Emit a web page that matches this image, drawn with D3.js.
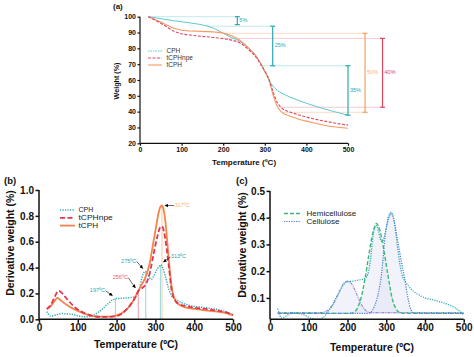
<!DOCTYPE html>
<html><head><meta charset="utf-8">
<script src="https://cdn.jsdelivr.net/npm/d3@7"></script>
<style>body{margin:0;background:#fff} text{font-family:"Liberation Sans",Arial,Helvetica,sans-serif}</style>
</head><body><svg id="c" width="474" height="357"></svg>
<script>
// ---------- Panel (a) data: TGA weight (%) ----------
const tA = [20,40,60,80,100,120,140,160,180,200,220,240,260,280,290,300,310,320,330,340,360,380,400,420,440,460,480,500];
const cphA = [100,99.2,98.3,97.5,96.8,96.1,95.3,94.2,92.3,89.5,86.8,84.5,80.5,75,70.5,65.5,60,56,53.5,51.8,49.3,47.2,45.3,43.6,42,40.5,39.1,37.8];
const npeA = [100,97.3,94.3,91,89.2,88.4,87.8,87.3,86.8,86.1,85.2,83.5,79.5,74,70,65.5,60.5,52.5,45.8,42.5,39.8,38.1,36.6,35.3,34.2,33.2,32.3,31.5];
const tcphA = [100,97.8,95.3,92.8,91.4,91,90.8,90.6,90.3,89.6,88,85.2,80.5,74.5,70.5,65.5,60,50.5,43.2,39.8,37.2,35.4,34,32.8,31.6,30.6,30,29.5];
const ticksAx = [0,100,200,300,400,500];
const ticksAy = [20,30,40,50,60,70,80,90,100];
// brackets (mass-loss annotations)
const brT = [234,319,500,541,583];
const brTop = [100,94,69,89.5,86.3];
const brBot = [95,69,37.8,39.6,42.8];
const brLabel = ["5%","25%","35%","50%","40%"];
const brKey = ["teal","teal","teal","orange","red"];
// guide lines
const gV = [100,94,69,89.5,39.6,86.3,42.8];
const gFrom = [20,158,288,200,342,195,338];
const gTo = [234,319,500,541,541,583,583];
const gKey = ["teal","teal","teal","orange","orange","red","red"];

// ---------- Panel (b) data: DTG ----------
const tCPH = [20,30,40,50,60,70,80,90,100,110,120,130,140,150,160,170,180,190,200,210,220,230,240,250,260,265,270,275,280,285,290,295,300,305,310,313,317,320,325,330,340,350,360,370,380,400,420,440,460,475,490,500];
const vCPH = [.06,.025,.03,.04,.045,.042,.04,.035,.028,.022,.02,.022,.03,.05,.07,.1,.125,.15,.16,.162,.164,.167,.17,.18,.25,.32,.36,.37,.35,.32,.31,.33,.36,.39,.41,.42,.41,.39,.34,.28,.19,.16,.14,.125,.115,.1,.093,.085,.075,.065,.05,.035];
const tNPE = [20,30,40,50,60,70,80,90,100,120,140,160,180,200,220,240,250,256,265,275,285,295,305,312,317,322,328,335,342,350,360,380,400,440,480,500];
const vNPE = [.08,.11,.17,.22,.2,.165,.13,.1,.075,.045,.025,.018,.018,.025,.06,.13,.18,.22,.24,.27,.35,.5,.64,.71,.72,.68,.57,.4,.22,.15,.12,.1,.09,.075,.055,.035];
const tTC = [20,30,40,47,55,65,80,100,120,140,160,180,200,220,240,256,265,275,285,295,302,308,313,317,321,326,332,338,345,352,360,380,400,440,480,500];
const vTC = [.08,.1,.14,.165,.15,.125,.095,.065,.04,.025,.02,.02,.03,.06,.13,.22,.27,.33,.43,.6,.72,.82,.87,.88,.85,.75,.55,.35,.2,.14,.115,.09,.08,.065,.05,.03];
const ticksBx = [0,100,200,300,400,500];
const ticksBy = [0,0.2,0.4,0.6,0.8,1.0];
// peak annotations
const pkT = [197,256,275,313,317];
const pkV = [0.16,0.22,0.37,0.42,0.88];
const pkLabel = ["197ºC","256ºC","275ºC","313ºC","317ºC"];
const pkKey = ["teal","red","teal","teal","orange"];
const pkDx = [-18,-18,-17,18,20];
const pkDy = [-8,-13,-10,-8,0];

// ---------- Panel (c) data: deconvolution ----------
const tHemi = [20,200,215,225,235,245,255,265,275,285,295,305,315,325,335,350,500];
const vHemi = [.042,.042,.045,.06,.1,.17,.26,.34,.378,.345,.27,.18,.1,.06,.045,.042,.042];
const tCell = [20,250,258,270,280,288,297,305,312,320,330,340,348,356,364,372,500];
const vCell = [.042,.042,.045,.07,.12,.19,.33,.4,.418,.39,.31,.23,.17,.1,.055,.043,.042];
const tLig = [20,130,145,160,175,188,200,212,225,238,250,260,500];
const vLig = [.045,.045,.05,.07,.11,.15,.163,.15,.11,.07,.05,.045,.045];
const ticksCx = [0,100,200,300,400,500];
const ticksCy = [0.1,0.2,0.3,0.4,0.5];

const col = {teal:"#2aa8b5", orange:"#f5a060", red:"#e2475d"};
const guideCol = {teal:"#c4e9ec", orange:"#fcdcc4", red:"#f7c9d0"};
const svg = d3.select("#c");
const F = '"Liberation Sans",Arial,Helvetica,sans-serif';

function axes(x, y, xt, yt, fs, sw, tl, fmtY) {
  const gx = svg.append("g").attr("transform",`translate(0,${y.range()[0]})`)
    .call(d3.axisBottom(x).tickValues(xt).tickSize(tl).tickPadding(1.5).tickFormat(d3.format("d")));
  const gy = svg.append("g").attr("transform",`translate(${x.range()[0]},0)`)
    .call(d3.axisLeft(y).tickValues(yt).tickSize(tl).tickPadding(1.5).tickFormat(fmtY));
  [gx,gy].forEach(g=>{
    g.selectAll("path,line").attr("stroke","#111").attr("stroke-width",sw);
    g.selectAll("text").attr("font-size",fs).attr("font-weight","bold").attr("fill","#111").style("font-family",F);
  });
  gx.select(".domain").attr("d",`M${x.range()[0]},0H${x.range()[1]}`);
  gy.select(".domain").attr("d",`M0,${y.range()[0]}V${y.range()[1]}`);
}
function label(t, x, y, fs, opts={}) {
  const e = svg.append("text").attr("x",x).attr("y",y).attr("font-size",fs)
    .attr("font-weight",opts.w||"normal").attr("fill",opts.c||"#111")
    .attr("text-anchor",opts.a||"start").attr("dominant-baseline","middle").text(t);
  if (opts.r) e.attr("transform",`rotate(-90,${x},${y})`);
  return e;
}
const zip = (t,v)=>t.map((d,i)=>[d,v[i]]);

// ================= Panel (a) =================
const xA = d3.scaleLinear().domain([0,500]).range([140,348]);
const yA = d3.scaleLinear().domain([20,100]).range([143.3,16.7]);
const lineA = d3.line().x(d=>xA(d[0])).y(d=>yA(d[1])).curve(d3.curveMonotoneX);
gV.forEach((v,i)=>{
  svg.append("line").attr("x1",xA(gFrom[i])).attr("x2",xA(gTo[i])).attr("y1",yA(v)).attr("y2",yA(v))
    .attr("stroke",guideCol[gKey[i]]).attr("stroke-width",1);
});
svg.append("path").attr("d",lineA(zip(tA,cphA))).attr("fill","none").attr("stroke","#5fc8cd").attr("stroke-width",1);
svg.append("path").attr("d",lineA(zip(tA,tcphA))).attr("fill","none").attr("stroke","#f59a66").attr("stroke-width",1.1);
svg.append("path").attr("d",lineA(zip(tA,npeA))).attr("fill","none").attr("stroke","#e04660").attr("stroke-width",1.1).attr("stroke-dasharray","3,1.5");
brT.forEach((t,i)=>{
  const x = xA(t), c = col[brKey[i]], y1 = yA(brTop[i]), y2 = yA(brBot[i]);
  svg.append("line").attr("x1",x).attr("x2",x).attr("y1",y1).attr("y2",y2).attr("stroke",c).attr("stroke-width",1.2);
  [y1,y2].forEach(yy=>svg.append("line").attr("x1",x-2.5).attr("x2",x+2.5).attr("y1",yy).attr("y2",yy).attr("stroke",c).attr("stroke-width",1.2));
  label(brLabel[i], x+2, (y1+y2)/2, 5.5, {c: brKey[i]==="orange" ? "#f7b27a" : c});
});
axes(xA, yA, ticksAx, ticksAy, 7, 1.2, 2.5, d3.format("d"));
label("(a)", 113, 7, 8, {w:"bold"});
label("Weight (%)", 117, 81, 7.2, {w:"bold", a:"middle", r:true});
label("Temperature (ºC)", 244, 163, 8, {w:"bold", a:"middle"});
// legend (a)
const legA = [["CPH","#5fc8cd","1.5,1",1],["tCPHnpe","#e04660","3,1.5",1.1],["tCPH","#f59a66",null,1.1]];
legA.forEach((d,i)=>{
  const yy = 51 + i*7;
  const l = svg.append("line").attr("x1",148).attr("x2",162).attr("y1",yy).attr("y2",yy).attr("stroke",d[1]).attr("stroke-width",d[3]);
  if (d[2]) l.attr("stroke-dasharray",d[2]);
  label(d[0], 166.5, yy, 6.5, {c:"#333"});
});

// ================= Panel (b) =================
const xB = d3.scaleLinear().domain([0,500]).range([39,233]);
const yB = d3.scaleLinear().domain([0,1]).range([319.3,190]);
const lineB = d3.line().x(d=>xB(d[0])).y(d=>yB(d[1])).curve(d3.curveMonotoneX);
const vlCol = {teal:"#9fdde2", red:"#f3a9b6", orange:"#fbd2b5"};
pkT.forEach((t,i)=>{
  svg.append("line").attr("x1",xB(t)).attr("x2",xB(t)).attr("y1",yB(0)).attr("y2",yB(pkV[i]))
    .attr("stroke",vlCol[pkKey[i]]).attr("stroke-width",1.2);
});
svg.append("path").attr("d",lineB(zip(tCPH,vCPH))).attr("fill","none").attr("stroke","#2aa8b5").attr("stroke-width",1.5).attr("stroke-dasharray","1.2,1.3");
svg.append("path").attr("d",lineB(zip(tTC,vTC))).attr("fill","none").attr("stroke","#f4844a").attr("stroke-width",1.8);
svg.append("path").attr("d",lineB(zip(tNPE,vNPE))).attr("fill","none").attr("stroke","#e2364f").attr("stroke-width",1.8).attr("stroke-dasharray","5,2.5");
axes(xB, yB, ticksBx, ticksBy, 10, 1.5, 3.5, d3.format(".1f"));
// peak arrows
svg.append("defs").append("marker").attr("id","ah").attr("viewBox","0 0 10 10").attr("refX",9).attr("refY",5)
  .attr("markerWidth",6).attr("markerHeight",6).attr("orient","auto")
  .append("path").attr("d","M0,0L10,5L0,10Z").attr("fill","#000");
pkT.forEach((t,i)=>{
  const px = xB(t), py = yB(pkV[i]);
  const sx = pkDx[i] < 0 ? px - 3 : px + 3, sy = py - (pkDy[i]<0?3:0);
  const tx = px + pkDx[i], ty = py + pkDy[i];
  const ex = pkDx[i] < 0 ? tx + 8 : tx - 8;
  svg.append("line").attr("x1",ex).attr("y1",ty).attr("x2",sx).attr("y2",sy).attr("stroke","#000").attr("stroke-width",0.6).attr("marker-end","url(#ah)");
  label(pkLabel[i], tx, ty, 5.5, {a:"middle", c: pkKey[i]==="orange" ? "#f7b27a" : pkKey[i]==="red" ? "#ea5a70" : "#2aa8b5"});
});
label("(b)", 4, 181.5, 9.5, {w:"bold"});
label("Derivative weight (%)", 11, 243, 10.5, {w:"bold", a:"middle", r:true});
label("Temperature (ºC)", 136, 345, 10.5, {w:"bold", a:"middle"});
const legB = [["CPH","#2aa8b5","1.2,1.3",1.5],["tCPHnpe","#e2364f","5,2.5",1.8],["tCPH","#f4844a",null,1.8]];
legB.forEach((d,i)=>{
  const yy = 210 + i*7.8;
  const l = svg.append("line").attr("x1",60).attr("x2",75).attr("y1",yy).attr("y2",yy).attr("stroke",d[1]).attr("stroke-width",d[3]);
  if (d[2]) l.attr("stroke-dasharray",d[2]);
  label(d[0], 78.5, yy, 8, {c:"#222"}).attr("textLength", d[0].length*4.9).attr("lengthAdjust","spacingAndGlyphs");
});

// ================= Panel (c) =================
const xC = d3.scaleLinear().domain([0,500]).range([270,463.7]);
const yC = d3.scaleLinear().domain([0.02,0.5]).range([319.3,190.9]);
const lineC = d3.line().x(d=>xC(d[0])).y(d=>yC(d[1])).curve(d3.curveMonotoneX);
const areaC = d3.area().x(d=>xC(d[0])).y0(yC(0.042)).y1(d=>yC(d[1])).curve(d3.curveMonotoneX);
[[tLig,vLig],[tHemi,vHemi],[tCell,vCell]].forEach(s=>{
  svg.append("path").attr("d",areaC(zip(s[0],s[1]))).attr("fill","#dfe2f4").attr("opacity",0.45);
});
svg.append("path").attr("d",lineC(zip(tLig,vLig))).attr("fill","none").attr("stroke","#a08ad0").attr("stroke-width",1.2).attr("stroke-dasharray","3,1,1,1");
svg.append("path").attr("d",lineC(zip(tCPH,vCPH).filter(d=>d[1]>=0.02))).attr("fill","none").attr("stroke","#2aa8b5").attr("stroke-width",1.2).attr("stroke-dasharray","1.2,1.2");
svg.append("path").attr("d",lineC(zip(tHemi,vHemi))).attr("fill","none").attr("stroke","#3cba7a").attr("stroke-width",1.4).attr("stroke-dasharray","4,2");
svg.append("path").attr("d",lineC(zip(tCell,vCell))).attr("fill","none").attr("stroke","#4a7fd0").attr("stroke-width",1.2).attr("stroke-dasharray","1.2,1.2");
axes(xC, yC, ticksCx, ticksCy, 10, 1.5, 3.5, d3.format(".1f"));
label("(c)", 236, 181.5, 9.5, {w:"bold"});
label("Derivative weight (%)", 243, 245, 10.5, {w:"bold", a:"middle", r:true});
label("Temperature (ºC)", 372, 348, 10.5, {w:"bold", a:"middle"});
const legC = [["Hemicellulose","#3cba7a","4,2",1.4],["Cellulose","#4a7fd0","1.2,1.2",1.2]];
legC.forEach((d,i)=>{
  const yy = 213.5 + i*8;
  svg.append("line").attr("x1",284).attr("x2",301).attr("y1",yy).attr("y2",yy).attr("stroke",d[1]).attr("stroke-width",d[3]).attr("stroke-dasharray",d[2]);
  label(d[0], 306.5, yy, 8, {c:"#222"});
});
</script></body></html>
